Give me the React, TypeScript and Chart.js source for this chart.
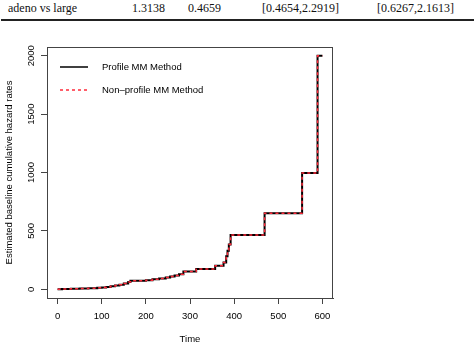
import React, { useEffect, useRef } from "react";
import { Chart, registerables } from "chart.js";

Chart.register(...registerables);

// Step-function estimates (time of jump, cumulative hazard after jump)
const times = [0, 10, 30, 50, 70, 90, 100, 110, 120, 130, 140, 150, 160, 165, 200, 215, 230, 245, 255, 265, 275, 285, 314, 357, 376, 382, 385, 388, 392, 469, 554, 589, 600];
const profileMM = [0, 2, 4, 7, 9, 12, 15, 20, 26, 32, 38, 50, 62, 72, 78, 85, 92, 100, 110, 118, 128, 152, 173, 202, 230, 283, 330, 384, 465, 652, 996, 2000, 2000];
const nonProfileMM = [0, 2, 4, 7, 9, 12, 15, 20, 26, 32, 38, 50, 62, 72, 78, 85, 92, 100, 110, 118, 128, 152, 173, 202, 230, 283, 330, 384, 465, 652, 996, 2000, 2000];

const xTicks = [0, 100, 200, 300, 400, 500, 600];
const yTicks = [0, 500, 1000, 1500, 2000];

const seriesLabels = ["Profile MM Method", "Non\u2013profile MM Method"];

const tableRow = ["adeno vs large", "1.3138", "0.4659", "[0.4654,2.2919]", "[0.6267,2.1613]"];
const tableCols = [8, 132, 188, 262, 377];

const FONT = '"Liberation Sans", Arial, sans-serif';

export default function App() {
  const ref = useRef<HTMLCanvasElement | null>(null);

  useEffect(() => {
    if (!ref.current) return;
    const tickFont = { family: FONT, size: 9.5 };

    const boxLegend = {
      id: "boxLegend",
      afterDraw(chart: any) {
        const { ctx, chartArea } = chart;
        ctx.save();
        ctx.strokeStyle = "#444";
        ctx.lineWidth = 1;
        ctx.strokeRect(chartArea.left + 0.5, chartArea.top + 0.5, chartArea.right - chartArea.left - 1, chartArea.bottom - chartArea.top);
        // legend
        const lx0 = chartArea.left + 13;
        const lx1 = chartArea.left + 41;
        const tx = chartArea.left + 55;
        const rows = [chartArea.top + 20, chartArea.top + 43];
        chart.data.datasets.forEach((ds: any, i: number) => {
          ctx.beginPath();
          ctx.strokeStyle = ds.borderColor;
          ctx.lineWidth = 1.5;
          ctx.setLineDash(ds.borderDash || []);
          ctx.moveTo(lx0, rows[i]);
          ctx.lineTo(lx1, rows[i]);
          ctx.stroke();
          ctx.setLineDash([]);
          ctx.fillStyle = "#000";
          ctx.font = `9.5px ${FONT}`;
          ctx.textBaseline = "middle";
          ctx.textAlign = "left";
          ctx.fillText(ds.label, tx, rows[i]);
        });
        ctx.restore();
      },
    };

    const chart = new Chart(ref.current, {
      type: "line",
      data: {
        datasets: [
          {
            label: seriesLabels[0],
            data: times.map((t, i) => ({ x: t, y: profileMM[i] })),
            borderColor: "#000",
            borderWidth: 2,
            stepped: "before",
            pointRadius: 0,
            fill: false,
            order: 2,
          },
          {
            label: seriesLabels[1],
            data: times.map((t, i) => ({ x: t, y: nonProfileMM[i] })),
            borderColor: "#ff2a3a",
            borderWidth: 1.5,
            borderDash: [3, 3],
            stepped: "before",
            pointRadius: 0,
            fill: false,
            order: 1,
          },
        ],
      },
      options: {
        animation: false,
        responsive: false,
        maintainAspectRatio: false,
        layout: { padding: { left: 0, top: 47, right: 141, bottom: 0 } },
        plugins: { legend: { display: false }, tooltip: { enabled: false } },
        scales: {
          x: {
            type: "linear",
            min: -24,
            max: 624,
            afterBuildTicks: (s: any) => {
              s.ticks = xTicks.map((v) => ({ value: v }));
            },
            afterFit: (s: any) => {
              s.height = 59;
            },
            ticks: { font: tickFont, color: "#000", padding: 7, maxRotation: 0, autoSkip: false, callback: (v: any) => String(v) },
            grid: { drawOnChartArea: false, tickLength: 6, color: "#444", lineWidth: 1 },
            border: { display: true, color: "#444", width: 1 },
            title: { display: true, text: "Time", color: "#000", font: { family: FONT, size: 9.5 }, padding: { top: 0, bottom: 12.3 } },
          },
          y: {
            type: "linear",
            min: -75,
            max: 2075,
            afterBuildTicks: (s: any) => {
              s.ticks = yTicks.map((v) => ({ value: v }));
            },
            afterFit: (s: any) => {
              s.width = 47;
            },
            ticks: { font: tickFont, color: "#000", padding: -0.5, minRotation: 90, maxRotation: 90, crossAlign: "center", autoSkip: false, callback: (v: any) => String(v) },
            grid: { drawOnChartArea: false, tickLength: 6, color: "#444", lineWidth: 1 },
            border: { display: true, color: "#444", width: 1 },
            title: { display: true, text: "Estimated baseline cumulative hazard rates", color: "#000", font: { family: FONT, size: 9.5 }, padding: { top: 3.3, bottom: 0 } },
          },
        },
      },
      plugins: [boxLegend],
    } as any);
    return () => chart.destroy();
  }, []);

  return (
    <div style={{ position: "fixed", left: 0, top: 0, width: 474, height: 357, background: "#fff", overflow: "hidden" }}>
      {tableRow.map((t, i) => (
        <span
          key={i}
          style={{ position: "absolute", left: tableCols[i], top: 1, fontFamily: '"Liberation Serif", serif', fontSize: 12, lineHeight: "14px", color: "#111", whiteSpace: "nowrap" }}
        >
          {t}
        </span>
      ))}
      <div style={{ position: "absolute", left: 1, top: 19, width: 473, height: 1.5, background: "#222" }} />
      <canvas ref={ref} width={474} height={357} style={{ position: "absolute", left: 0, top: 0, width: 474, height: 357 }} />
    </div>
  );
}
